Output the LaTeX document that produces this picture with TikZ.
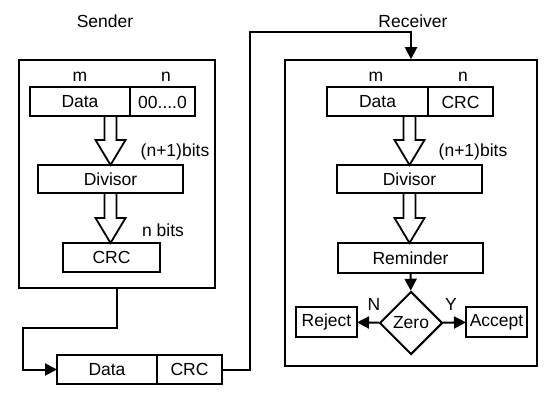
\documentclass[tikz,border=0pt]{standalone}
\usepackage{fontspec}
\setmainfont{Liberation Sans}
\usetikzlibrary{positioning,calc,shapes.geometric,arrows.meta}

\tikzset{
  boite/.style={draw, line width=2pt, minimum height=29pt, inner sep=0pt, outer sep=0pt},
  cadre/.style={draw, line width=1.5pt, inner sep=0pt},
  lbl/.style={inner sep=0pt},
  fleche/.style={line width=2pt, -{Triangle[length=12pt,width=12pt]}},
  creuse/.style={line width=1.8pt, to path={let \p1=(\tikztostart), \p2=(\tikztotarget) in
    (\x2-6pt,\y1) -- (\x2-6pt,\y2+25pt) -- (\x2-15pt,\y2+25pt) -- (\x2,\y2)
    -- (\x2+15pt,\y2+25pt) -- (\x2+6pt,\y2+25pt) -- (\x2+6pt,\y1)}}
}

\begin{document}
\begin{tikzpicture}[x=1pt, y=-1pt, font=\fontsize{17.5}{20}\selectfont]
  \useasboundingbox (0,0) rectangle (557,401);

  % dessiner l'emetteur
  \node[lbl] (sendtitle) at (105,21) {Sender};
  \node[cadre, minimum width=196pt, minimum height=228pt] (sendbox) at (117,174) {};
  \node[boite, minimum width=100pt] (sdata) at (80,102) {Data};
  \node[boite, minimum width=65pt, right=0pt of sdata] (szero) {00....0};
  \node[lbl] (sm) at (80,77) {m};
  \node[lbl] (sn) at (166,77) {n};
  \node[boite, minimum width=145pt, minimum height=28pt] (sdiv) at (110.5,179) {Divisor};
  \node[lbl] (sbits1) at (175,152) {(n+1)bits};
  \node[boite, minimum width=97pt] (scrc) at (111.5,257.5) {CRC};
  \node[lbl] (sbits2) at (163,230) {n bits};
  \draw[creuse] (sdiv.north |- sdata.south) to (sdiv.north);
  \draw[creuse] (sdiv.south) to (sdiv.south |- scrc.north);

  % dessiner la trame
  \node[boite, minimum width=100pt] (bdata) at (107,369.5) {Data};
  \node[boite, minimum width=65pt, right=0pt of bdata] (bcrc) {CRC};

  % dessiner le recepteur
  \node[lbl] (recvtitle) at (413,21) {Receiver};
  \node[cadre, minimum width=252pt, minimum height=306pt] (recvbox) at (411,213) {};
  \node[boite, minimum width=101pt] (rdata) at (377.5,102) {Data};
  \node[boite, minimum width=65pt, right=0pt of rdata] (rcrc) {CRC};
  \node[lbl] (rm) at (376,77) {m};
  \node[lbl] (rn) at (463,77) {n};
  \node[boite, minimum width=145pt, minimum height=28pt] (rdiv) at (409.5,179) {Divisor};
  \node[lbl] (rbits) at (473,152) {(n+1)bits};
  \node[boite, minimum width=145pt, minimum height=30pt] (rem) at (410.5,258) {Reminder};
  \node[draw, diamond, line width=2pt, minimum width=63pt, minimum height=63pt, inner sep=0pt] (zero) at (411,323) {Zero};
  \node[boite, minimum width=61pt, minimum height=30pt] (rej) at (326.5,322) {Reject};
  \node[boite, minimum width=61pt, minimum height=30pt] (acc) at (496.5,322) {Accept};
  \node[lbl] (no) at (374,304) {N};
  \node[lbl] (yes) at (451,304) {Y};
  \draw[creuse] (rdiv.north |- rdata.south) to (rdiv.north);
  \draw[creuse] (rdiv.south) to (rdiv.south |- rem.north);

  % les liaisons
  \coordinate (k1) at (23,328);
  \coordinate (k2) at (250,32);
  \draw[fleche] (sendbox.south) |- (k1) |- (bdata.west);
  \draw[fleche] (bcrc.east) -| (k2) -| (recvbox.north);
  \draw[fleche] (rem) -- (zero);
  \draw[fleche] (zero) -- (rej);
  \draw[fleche] (zero) -- (acc);
\end{tikzpicture}
\end{document}
